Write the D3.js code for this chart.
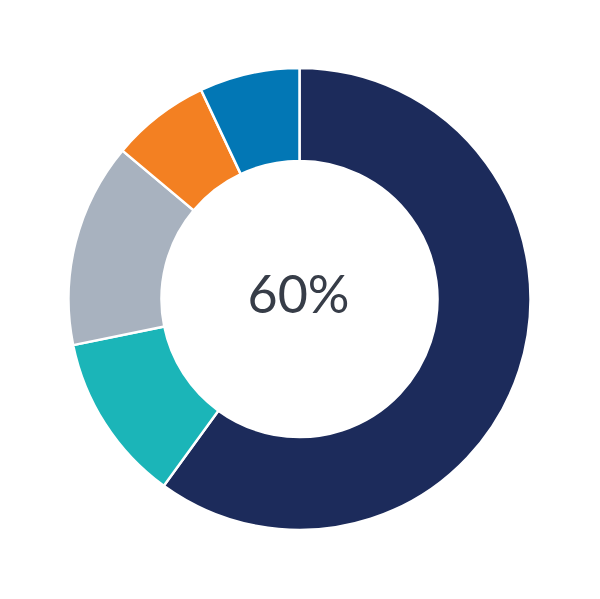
<!DOCTYPE html>
<html>
<head>
<meta charset="utf-8">
<script src="https://cdn.jsdelivr.net/npm/d3@7"></script>
<style>
  body { margin: 0; background: #fff; }
  svg { display: block; }
</style>
</head>
<body>
<svg class="main-chart" width="600" height="599"></svg>
<script>
// slice data, clockwise from 12 o'clock
var categories = ["A", "B", "C", "D", "E"];
var values = [60, 11.8, 14.3, 6.9, 7.0];
var colors = ["#1c2b5b", "#1bb5b8", "#a8b2bf", "#f38022", "#0277b5"];
var centerLabel = "60%";

var data = categories.map(function(c, i) {
  return { name: c, value: values[i] };
});

var svg = d3.select("svg.main-chart");
var g = svg.append("g").attr("transform", "translate(299.5,299)");

var pie = d3.pie().sort(null).value(d => d.value);
var arc = d3.arc().innerRadius(138).outerRadius(231);
var colorScale = d3.scaleOrdinal().domain(categories).range(colors);

g.selectAll("path.slice")
  .data(pie(data))
  .enter()
  .append("path")
  .attr("class", "slice")
  .attr("d", arc)
  .style("fill", d => colorScale(d.data.name))
  .style("stroke", "#fff")
  .style("stroke-width", 2.5);

g.append("text")
  .text(centerLabel)
  .attr("x", -1)
  .attr("y", 14)
  .attr("text-anchor", "middle")
  .attr("font-family", "Lato, sans-serif")
  .attr("font-size", "52px")
  .attr("fill", "#373d48");
</script>
</body>
</html>
